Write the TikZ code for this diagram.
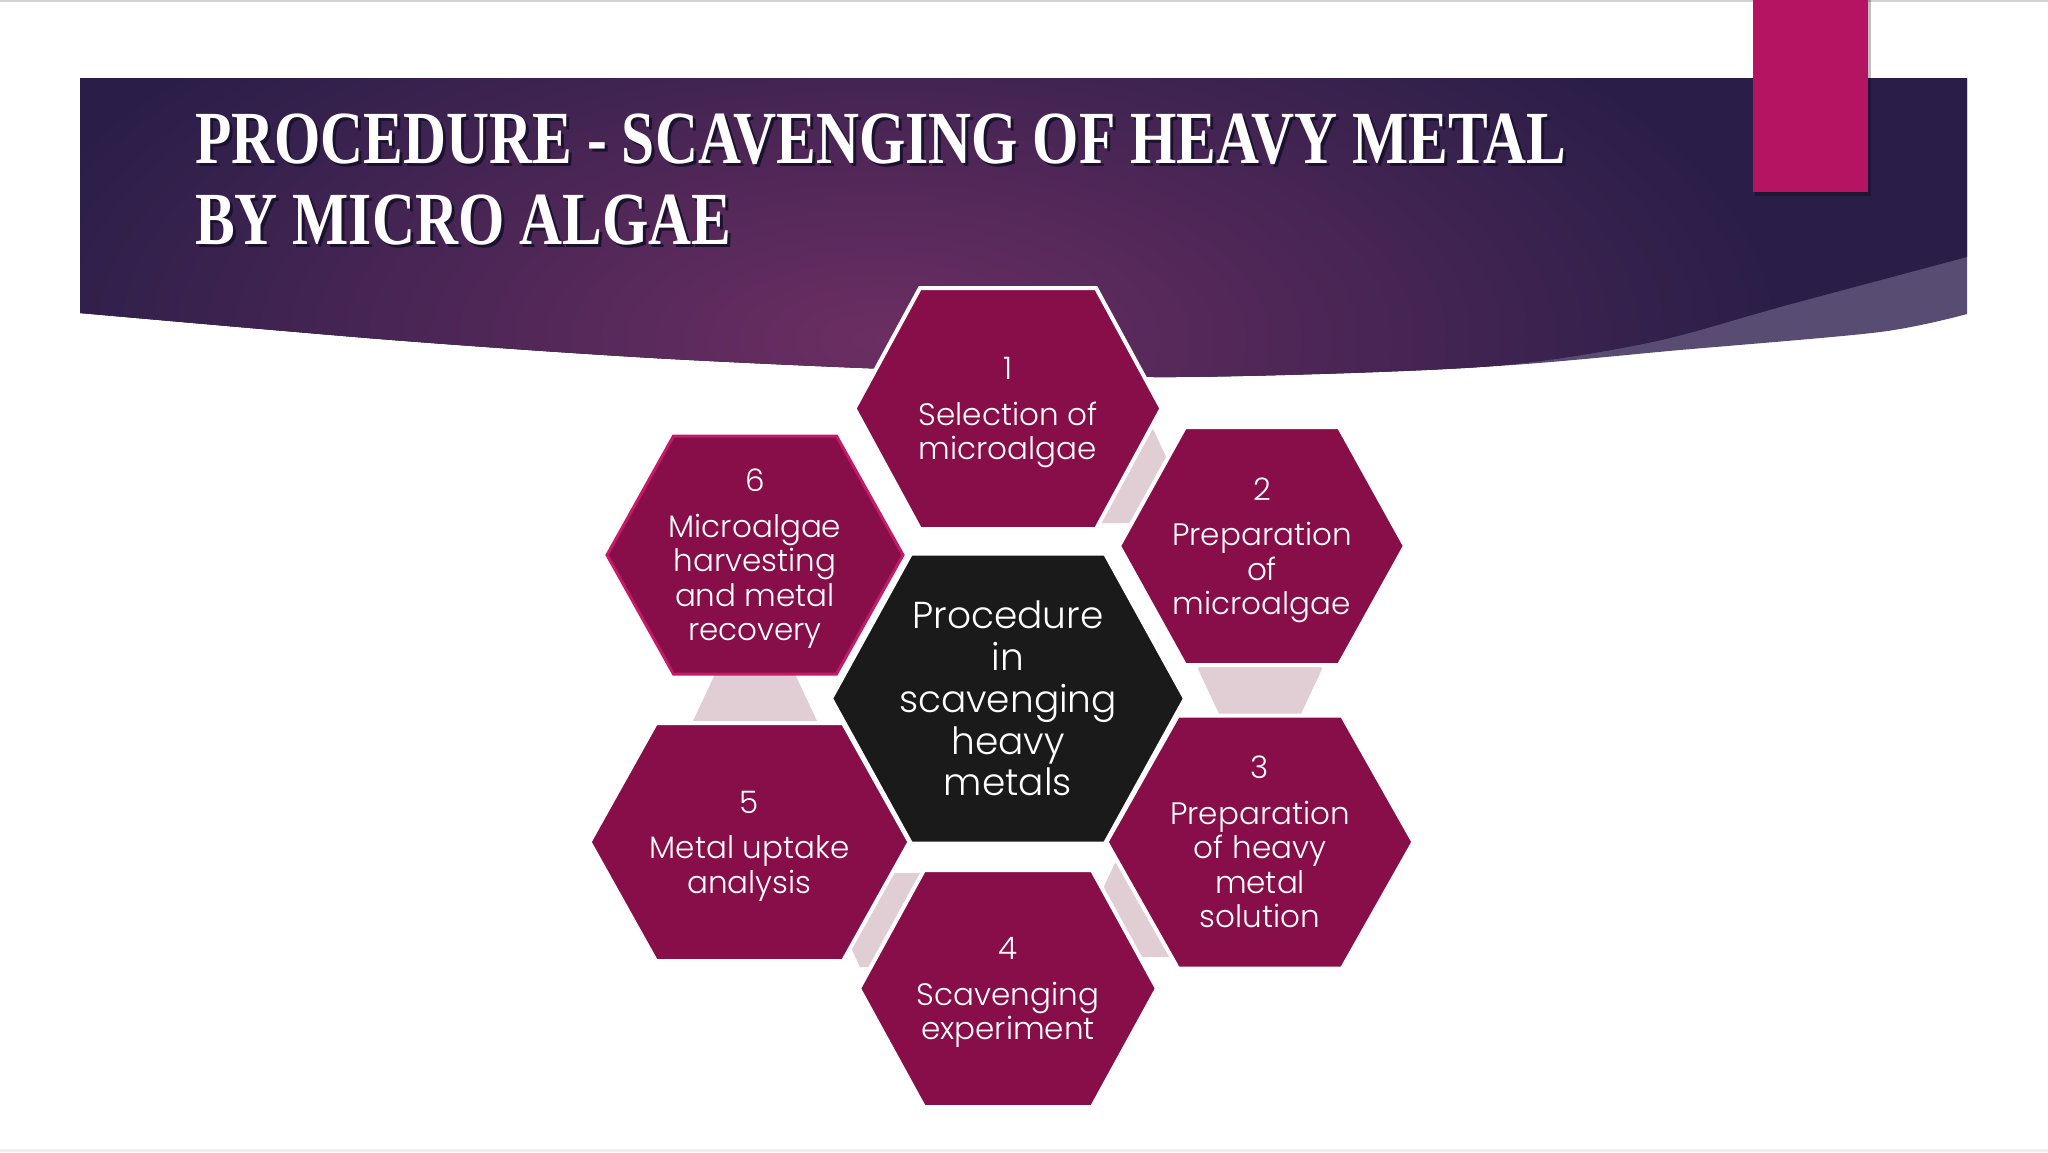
\documentclass[tikz,border=0pt]{standalone}
\usepackage{fontspec}
\setmainfont{Poppins}[UprightFont={* Light}]
\newfontfamily\titlefont{Liberation Serif}
\definecolor{hexfill}{HTML}{880E4A}
\definecolor{hexedgesel}{HTML}{C41A68}
\definecolor{conncol}{HTML}{E1CDD4}
\definecolor{centerfill}{HTML}{1A1A1A}
\definecolor{bandlight}{HTML}{6C2E63}
\definecolor{banddark}{HTML}{2A1E48}
\definecolor{stripecol}{HTML}{594C72}
\definecolor{accentcol}{HTML}{B51463}
\definecolor{titleshadow}{HTML}{1C1230}
% hexagon path: cx, cy, half-width, half-top-edge, half-height
\newcommand\hexagonpath[5]{({#1-#3},{#2}) -- ({#1-#4},{#2-#5}) -- ({#1+#4},{#2-#5}) -- ({#1+#3},{#2}) -- ({#1+#4},{#2+#5}) -- ({#1-#4},{#2+#5}) -- cycle}
\begin{document}
\begin{tikzpicture}[x=1pt,y=-1pt,
  hexa/.style={fill=hexfill, draw=white, line width=4pt},
  hexsel/.style={fill=hexfill, draw=hexedgesel, line width=3pt},
  hexmid/.style={fill=centerfill, draw=white, line width=4pt},
  connhex/.style={fill=conncol},
  lbl/.style={align=center, text=white, inner sep=0pt, text depth=0pt, font=\fontsize{31}{34.4}\selectfont},
  midlbl/.style={align=center, text=white, inner sep=0pt, text depth=0pt, font=\fontsize{37.5}{41.8}\selectfont},
  titlelbl/.style={anchor=base west, inner sep=0pt, xscale=0.794, font=\titlefont\bfseries\fontsize{75}{75}\selectfont}]
\useasboundingbox (0,0) rectangle (2048,1152);
\fill[white] (0,0) rectangle (2048,1152);
\fill[gray!35] (0,0) rectangle (2048,2);
\fill[gray!12] (0,1149) rectangle (2048,1152);
% banner: light stripe underneath
\fill[stripecol] (80,78) -- (1967,78) -- plot[smooth] coordinates {(1967,314) (1880,332) (1680,350) (1480,367) (1175,377) (914,370) (653,358) (392,340) (80,313)} -- cycle;
% banner: dark part with radial glow
\begin{scope}
\clip (80,78) -- (1967,78) -- plot[smooth] coordinates {(1967,257) (1780,307) (1647,343) (1480,367) (1175,377) (914,370) (653,358) (392,340) (80,313)} -- cycle;
\fill[banddark] (70,70) rectangle (1980,390);
\shade[inner color=bandlight, outer color=banddark] (880,340) ellipse (900 and 420);
\end{scope}
% accent bar
\fill[black, opacity=0.25] (1755,0) rectangle (1871,196);
\fill[accentcol] (1753,0) rectangle (1868,192);
% title
\node[titlelbl, text=titleshadow] (title1s) at (198,166) {PROCEDURE - SCAVENGING OF HEAVY METAL};
\node[titlelbl, text=white] (title1) at (195,163) {PROCEDURE - SCAVENGING OF HEAVY METAL};
\node[titlelbl, text=titleshadow] (title2s) at (198,247) {BY MICRO ALGAE};
\node[titlelbl, text=white] (title2) at (195,244) {BY MICRO ALGAE};
% connectors (small hexagons behind)
\path[connhex] \hexagonpath{1113}{476}{62}{40}{47};
\path[connhex] \hexagonpath{1260}{669}{62}{40}{47};
\path[connhex] \hexagonpath{1155}{910}{62}{40}{47};
\path[connhex] \hexagonpath{900}{920}{62}{40}{47};
\path[connhex] \hexagonpath{755}{721}{62}{40}{47};
% main hexagons
\path[hexa] \hexagonpath{1008}{408.5}{153.5}{88}{120.5};
\path[hexa] \hexagonpath{1262}{546}{143}{77}{119};
\path[hexa] \hexagonpath{1260}{842}{153.5}{82}{126.5};
\path[hexa] \hexagonpath{1008}{988.5}{149}{84}{118.5};
\path[hexa] \hexagonpath{749.5}{842}{160}{93.5}{119};
\path[hexsel] \hexagonpath{755}{555}{148}{81.5}{119};
\path[hexmid] \hexagonpath{1008}{698.5}{177}{97}{145};
% labels
\node[lbl] (t1) at (1008,408.5) {1\\[11.3pt]Selection of\\microalgae};
\node[lbl] (t2) at (1262,546) {2\\[11.3pt]Preparation\\of\\microalgae};
\node[lbl] (t3) at (1260,842) {3\\[11.3pt]Preparation\\of heavy\\metal\\solution};
\node[lbl] (t4) at (1008,988.5) {4\\[11.3pt]Scavenging\\experiment};
\node[lbl] (t5) at (749.5,842) {5\\[11.3pt]Metal uptake\\analysis};
\node[lbl] (t6) at (755,555) {6\\[11.3pt]Microalgae\\harvesting\\and metal\\recovery};
\node[midlbl] (tc) at (1008,698.5) {Procedure\\in\\scavenging\\heavy\\metals};
\end{tikzpicture}
\end{document}
